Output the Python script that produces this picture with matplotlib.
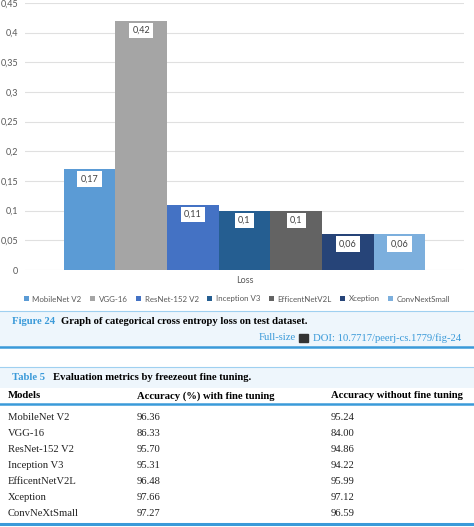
import matplotlib
matplotlib.use("Agg")
import matplotlib.pyplot as plt
from matplotlib.patches import Rectangle
from matplotlib.lines import Line2D

# data
models = ["MobileNet V2", "VGG-16", "ResNet-152 V2", "Inception V3",
          "EfficentNetV2L", "Xception", "ConvNextSmall"]
loss = [0.17, 0.42, 0.11, 0.10, 0.10, 0.06, 0.06]
colors = ["#5b9bd5", "#a5a5a5", "#4472c4", "#255e91", "#636363", "#264478", "#7cafdd"]

table_models = ["MobileNet V2", "VGG-16", "ResNet-152 V2", "Inception V3",
                "EfficentNetV2L", "Xception", "ConvNeXtSmall"]
acc_with = ["96.36", "86.33", "95.70", "95.31", "96.48", "97.66", "97.27"]
acc_without = ["95.24", "84.00", "94.86", "94.22", "95.99", "97.12", "96.59"]
headers = ["Models", "Accuracy (%) with fine tuning", "Accuracy without fine tuning"]

W, H = 474, 527
plt.rcParams["font.family"] = ["Lato", "DejaVu Sans"]
fig = plt.figure(figsize=(W / 100, H / 100), dpi=100)


def fx(px):
    return px / W


def fy(py):
    return 1 - py / H


blue = "#3a9ad9"
serif = "Liberation Serif"
gray = "#595959"
fs = 7.7

# chart
ax = fig.add_axes([fx(25), fy(270), fx(464) - fx(25), fy(3) - fy(270)])
bw = 0.1177
n = len(models)
for i, (m, v, c) in enumerate(zip(models, loss, colors)):
    x = (i - (n - 1) / 2) * bw
    ax.bar(x, v, width=bw, color=c, label=m, zorder=3)
    ax.annotate(f"{v:g}".replace(".", ","), (x, v), xytext=(0, -7),
                textcoords="offset points", ha="center", va="center",
                fontsize=6.5, color="#404040", zorder=4,
                bbox=dict(boxstyle="square,pad=0.35", fc="white", ec="none"))

ax.set_xlim(-0.5, 0.5)
ax.set_ylim(0, 0.45)
yt = [0, 0.05, 0.1, 0.15, 0.2, 0.25, 0.3, 0.35, 0.4, 0.45]
ax.set_yticks(yt)
ax.set_yticklabels([f"{t:g}".replace(".", ",") for t in yt], fontsize=6.5, color=gray)
ax.set_xticks([])
ax.grid(axis="y", color="#e0e0e0", lw=0.8, zorder=0)
for s in ax.spines.values():
    s.set_visible(False)
ax.tick_params(axis="y", length=0, pad=5)
ax.set_xlabel("Loss", fontsize=6.5, color=gray, labelpad=4)

fig.legend(loc="center", bbox_to_anchor=(fx(237), fy(299)), ncol=7, frameon=False,
           fontsize=5.7, handlelength=0.6, handleheight=0.6, handletextpad=0.45,
           columnspacing=1.1, labelcolor=gray)

# figure caption box
fig.patches.append(Rectangle((0, fy(347)), 1, fy(311) - fy(347), transform=fig.transFigure,
                             fc="#eef6fc", ec="none", zorder=0))
fig.lines.append(Line2D([0, 1], [fy(311), fy(311)], transform=fig.transFigure, color="#9fd0f0", lw=0.8))
fig.lines.append(Line2D([0, 1], [fy(347), fy(347)], transform=fig.transFigure, color=blue, lw=1.8))
fig.text(fx(12), fy(322), "Figure 24", color=blue, fontsize=fs, fontweight="bold",
         family=serif, va="center")
fig.text(fx(61), fy(322), "Graph of categorical cross entropy loss on test dataset.",
         color="black", fontsize=fs, fontweight="bold", family=serif, va="center")
fig.text(fx(461), fy(338), "DOI: 10.7717/peerj-cs.1779/fig-24", color=blue, fontsize=fs,
         family=serif, va="center", ha="right")
fig.patches.append(Rectangle((fx(299), fy(342)), fx(9), fy(334) - fy(342), transform=fig.transFigure,
                             fc="#333333", ec="#333333", zorder=2))
fig.text(fx(296), fy(338), "Full-size", color=blue, fontsize=fs,
         family=serif, va="center", ha="right")

# table title box
fig.patches.append(Rectangle((0, fy(388)), 1, fy(367) - fy(388), transform=fig.transFigure,
                             fc="#eef6fc", ec="none", zorder=0))
fig.lines.append(Line2D([0, 1], [fy(367), fy(367)], transform=fig.transFigure, color="#9fd0f0", lw=0.8))
fig.text(fx(12), fy(378), "Table 5", color=blue, fontsize=fs, fontweight="bold",
         family=serif, va="center")
fig.text(fx(53), fy(378), "Evaluation metrics by freezeout fine tuning.", color="black",
         fontsize=fs, fontweight="bold", family=serif, va="center")

# table
col_x = [8, 137, 331]
for cx, h in zip(col_x, headers):
    fig.text(fx(cx), fy(396), h, fontsize=fs, fontweight="bold", family=serif, va="center")
fig.lines.append(Line2D([0, 1], [fy(404), fy(404)], transform=fig.transFigure, color=blue, lw=1.8))
row_y = [417, 433, 449, 465, 482, 498, 514]
for ry, m, a1, a2 in zip(row_y, table_models, acc_with, acc_without):
    for cx, t in zip(col_x, [m, a1, a2]):
        fig.text(fx(cx), fy(ry), t, fontsize=fs, family=serif, va="center", color="#222222")
fig.lines.append(Line2D([0, 1], [fy(524), fy(524)], transform=fig.transFigure, color=blue, lw=2.2))

fig.savefig("out.png", dpi=100)
